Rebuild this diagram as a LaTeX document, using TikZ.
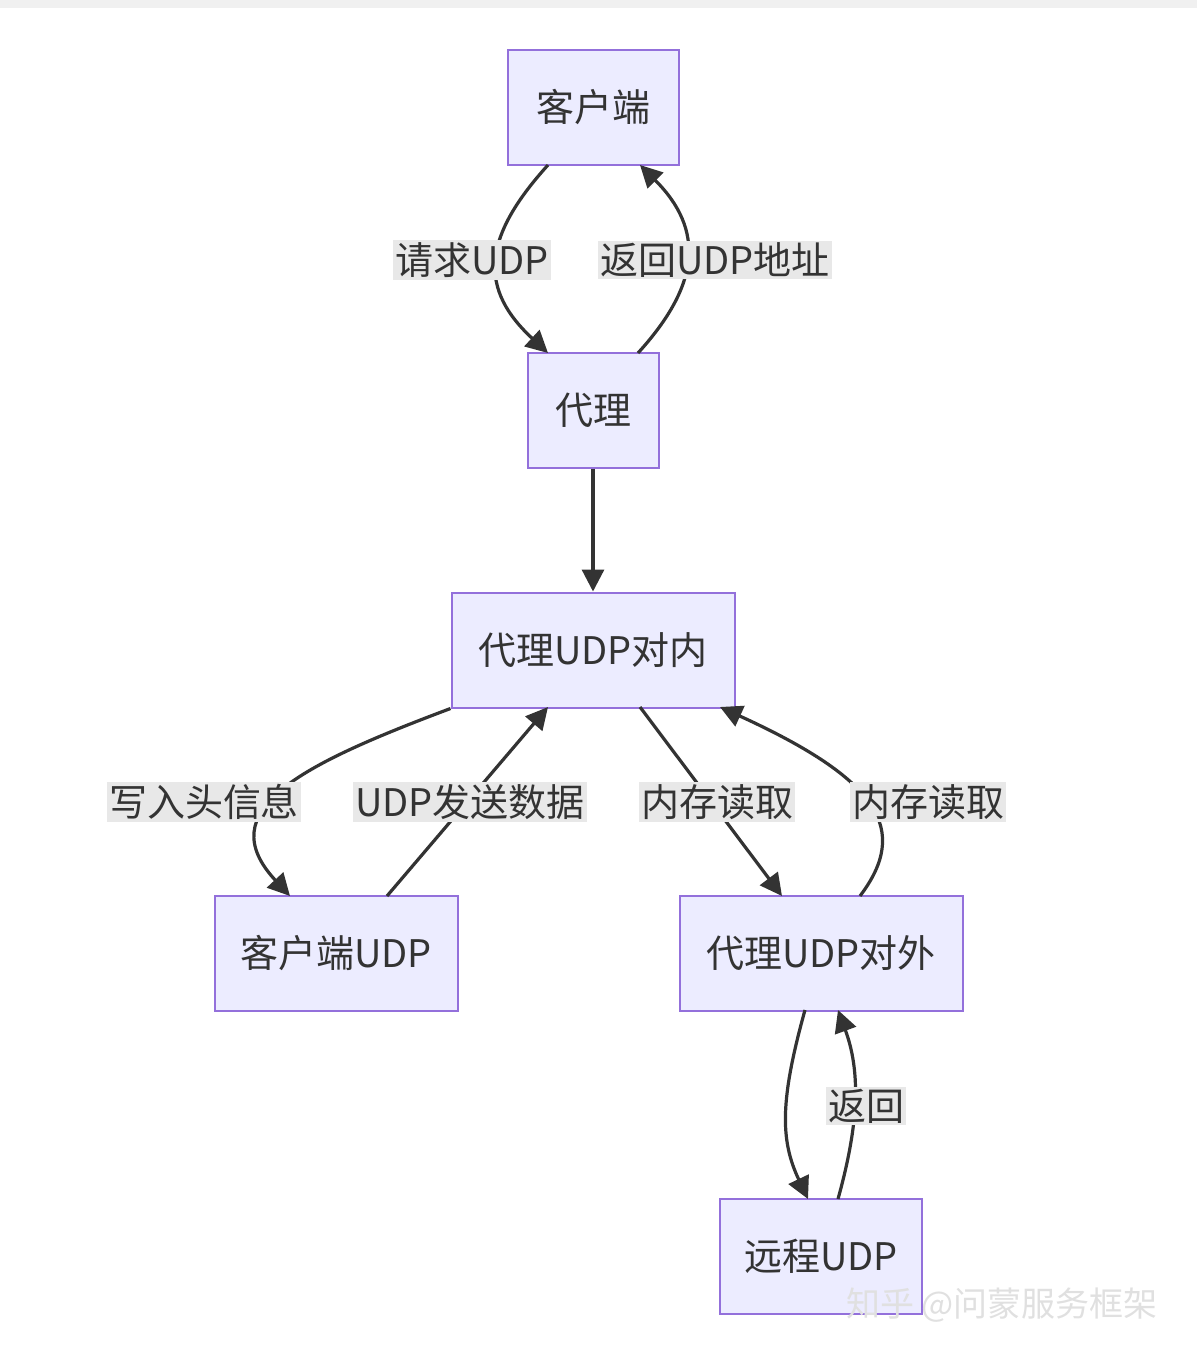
\documentclass[tikz,border=0pt]{standalone}
\usepackage{fontspec}
\setmainfont{Noto Sans CJK SC}
\usetikzlibrary{arrows.meta}
\definecolor{boxfill}{HTML}{ECECFF}
\definecolor{boxline}{HTML}{9370DB}
\definecolor{edge}{HTML}{333333}
\definecolor{lblbg}{HTML}{E8E8E8}
\tikzset{
  box/.style={draw=boxline,fill=boxfill,line width=1pt,minimum height=57.5pt,
    inner sep=0pt,font=\fontsize{19}{19}\selectfont,text=edge},
  link/.style={draw=edge,line width=1.6pt,-{Triangle[length=11pt,width=11pt]}},
  lbl/.style={fill=lblbg,inner sep=1pt,font=\fontsize{19}{19}\selectfont,text=edge}
}
\begin{document}
\begin{tikzpicture}[x=0.5pt,y=-0.5pt]
    \useasboundingbox (0,0) rectangle (1197,1356);
    \fill[black!6] (0,0) rectangle (1197,8);
    %
    \node[box,minimum width=85.5pt] (client) at (593,107) {客户端};
    \node[box,minimum width=65.5pt] (proxy) at (593,410) {代理};
    \node[box,minimum width=141.5pt] (inner) at (593,650) {代理UDP对内};
    \node[box,minimum width=121.5pt] (cudp) at (336,953) {客户端UDP};
    \node[box,minimum width=141.5pt] (outer) at (821,953) {代理UDP对外};
    \node[box,minimum width=101pt] (remote) at (821,1256) {远程UDP};
    %
    \coordinate (c1) at (548,165);
    \coordinate (c2) at (548,353);
    \coordinate (c3) at (638,353);
    \coordinate (c4) at (640,165);
    \draw[link] (c1) .. controls (480,240) and (480,290) .. (c2);
    \draw[link] (c3) .. controls (700,285) and (705,230) .. (c4);
    \draw[link] (proxy) -- (inner);
    \draw[link] (inner.south west) .. controls (300,765) and (210,810) .. (290,896);
    \draw[link] (387,896) -- (548,707);
    \draw[link] (640,707) -- (782,896);
    \draw[link] (860,896) .. controls (910,830) and (880,780) .. (720,707);
    \draw[link] (805,1010) .. controls (780,1100) and (780,1140) .. (808,1199);
    \draw[link] (838,1199) .. controls (860,1120) and (860,1070) .. (838,1010);
    %
    \node[lbl] (l1) at (472,260) {请求UDP};
    \node[lbl] (l2) at (715,260) {返回UDP地址};
    \node[lbl] (l3) at (204,802) {写入头信息};
    \node[lbl] (l4) at (470,802) {UDP发送数据};
    \node[lbl] (l5) at (717,802) {内存读取};
    \node[lbl] (l6) at (928,802) {内存读取};
    \node[lbl] (l7) at (866,1106) {返回};
    %
    \node[text=black!12,font=\fontsize{17}{17}\selectfont] (mark) at (1002,1305) {知乎 @问蒙服务框架};
\end{tikzpicture}
\end{document}
